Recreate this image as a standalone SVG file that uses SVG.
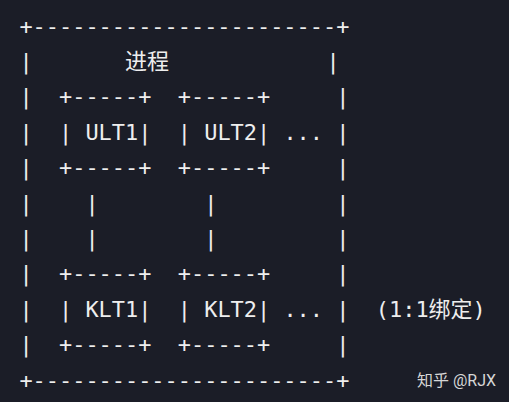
<svg xmlns="http://www.w3.org/2000/svg" width="509" height="402" viewBox="0 0 509 402">
<style>
.t{font-family:"DejaVu Sans Mono","Liberation Mono","Noto Sans CJK SC",monospace;font-size:21.93px;fill:#eeeeee;white-space:pre}
.cjk{font-family:"Noto Sans CJK SC","Noto Sans",sans-serif;font-size:22px;fill:#eeeeee}
.wm{font-family:"Roboto","Noto Sans CJK SC",sans-serif;font-size:16px;fill:#d6d6d6}
</style>
<rect width="509" height="402" fill="#1b1d27"/>
<g id="process">
<text class="t" x="19.4" y="33.5" xml:space="preserve">+-----------------------+</text>
<text class="t" x="19.4" y="387.5" xml:space="preserve">+-----------------------+</text>
<text class="t" x="19.4" y="68.9">|</text>
<text class="cjk" x="125" y="68.9">进程</text>
<text class="t" x="326.6" y="68.9">|</text>
<text class="t" x="19.4" y="104.3">|</text><text class="t" x="336.2" y="104.3">|</text>
<text class="t" x="19.4" y="139.7">|</text><text class="t" x="336.2" y="139.7">|</text>
<text class="t" x="19.4" y="175.1">|</text><text class="t" x="336.2" y="175.1">|</text>
<text class="t" x="19.4" y="210.5">|</text><text class="t" x="336.2" y="210.5">|</text>
<text class="t" x="19.4" y="245.9">|</text><text class="t" x="336.2" y="245.9">|</text>
<text class="t" x="19.4" y="281.3">|</text><text class="t" x="336.2" y="281.3">|</text>
<text class="t" x="19.4" y="316.7">|</text><text class="t" x="336.2" y="316.7">|</text>
<text class="t" x="19.4" y="352.1">|</text><text class="t" x="336.2" y="352.1">|</text>
<text class="t" x="283.4" y="139.7">...</text>
<text class="t" x="283.4" y="316.7">...</text>
</g>
<g id="ULT1">
<text class="t" x="59" y="104.3" xml:space="preserve">+-----+</text>
<text class="t" x="59" y="139.7" xml:space="preserve">| ULT1|</text>
<text class="t" x="59" y="175.1" xml:space="preserve">+-----+</text>
</g>
<g id="ULT2">
<text class="t" x="177.8" y="104.3" xml:space="preserve">+-----+</text>
<text class="t" x="177.8" y="139.7" xml:space="preserve">| ULT2|</text>
<text class="t" x="177.8" y="175.1" xml:space="preserve">+-----+</text>
</g>
<g id="KLT1">
<text class="t" x="59" y="281.3" xml:space="preserve">+-----+</text>
<text class="t" x="59" y="316.7" xml:space="preserve">| KLT1|</text>
<text class="t" x="59" y="352.1" xml:space="preserve">+-----+</text>
</g>
<g id="KLT2">
<text class="t" x="177.8" y="281.3" xml:space="preserve">+-----+</text>
<text class="t" x="177.8" y="316.7" xml:space="preserve">| KLT2|</text>
<text class="t" x="177.8" y="352.1" xml:space="preserve">+-----+</text>
</g>
<g id="connectors">
<text class="t" x="85.4" y="210.5">|</text>
<text class="t" x="85.4" y="245.9">|</text>
<text class="t" x="204.2" y="210.5">|</text>
<text class="t" x="204.2" y="245.9">|</text>
</g>
<g id="annotation">
<text class="t" x="375.8" y="316.7">(1:1绑定)</text>
</g>
<text class="wm" x="417" y="386">知乎 @RJX</text>
</svg>
